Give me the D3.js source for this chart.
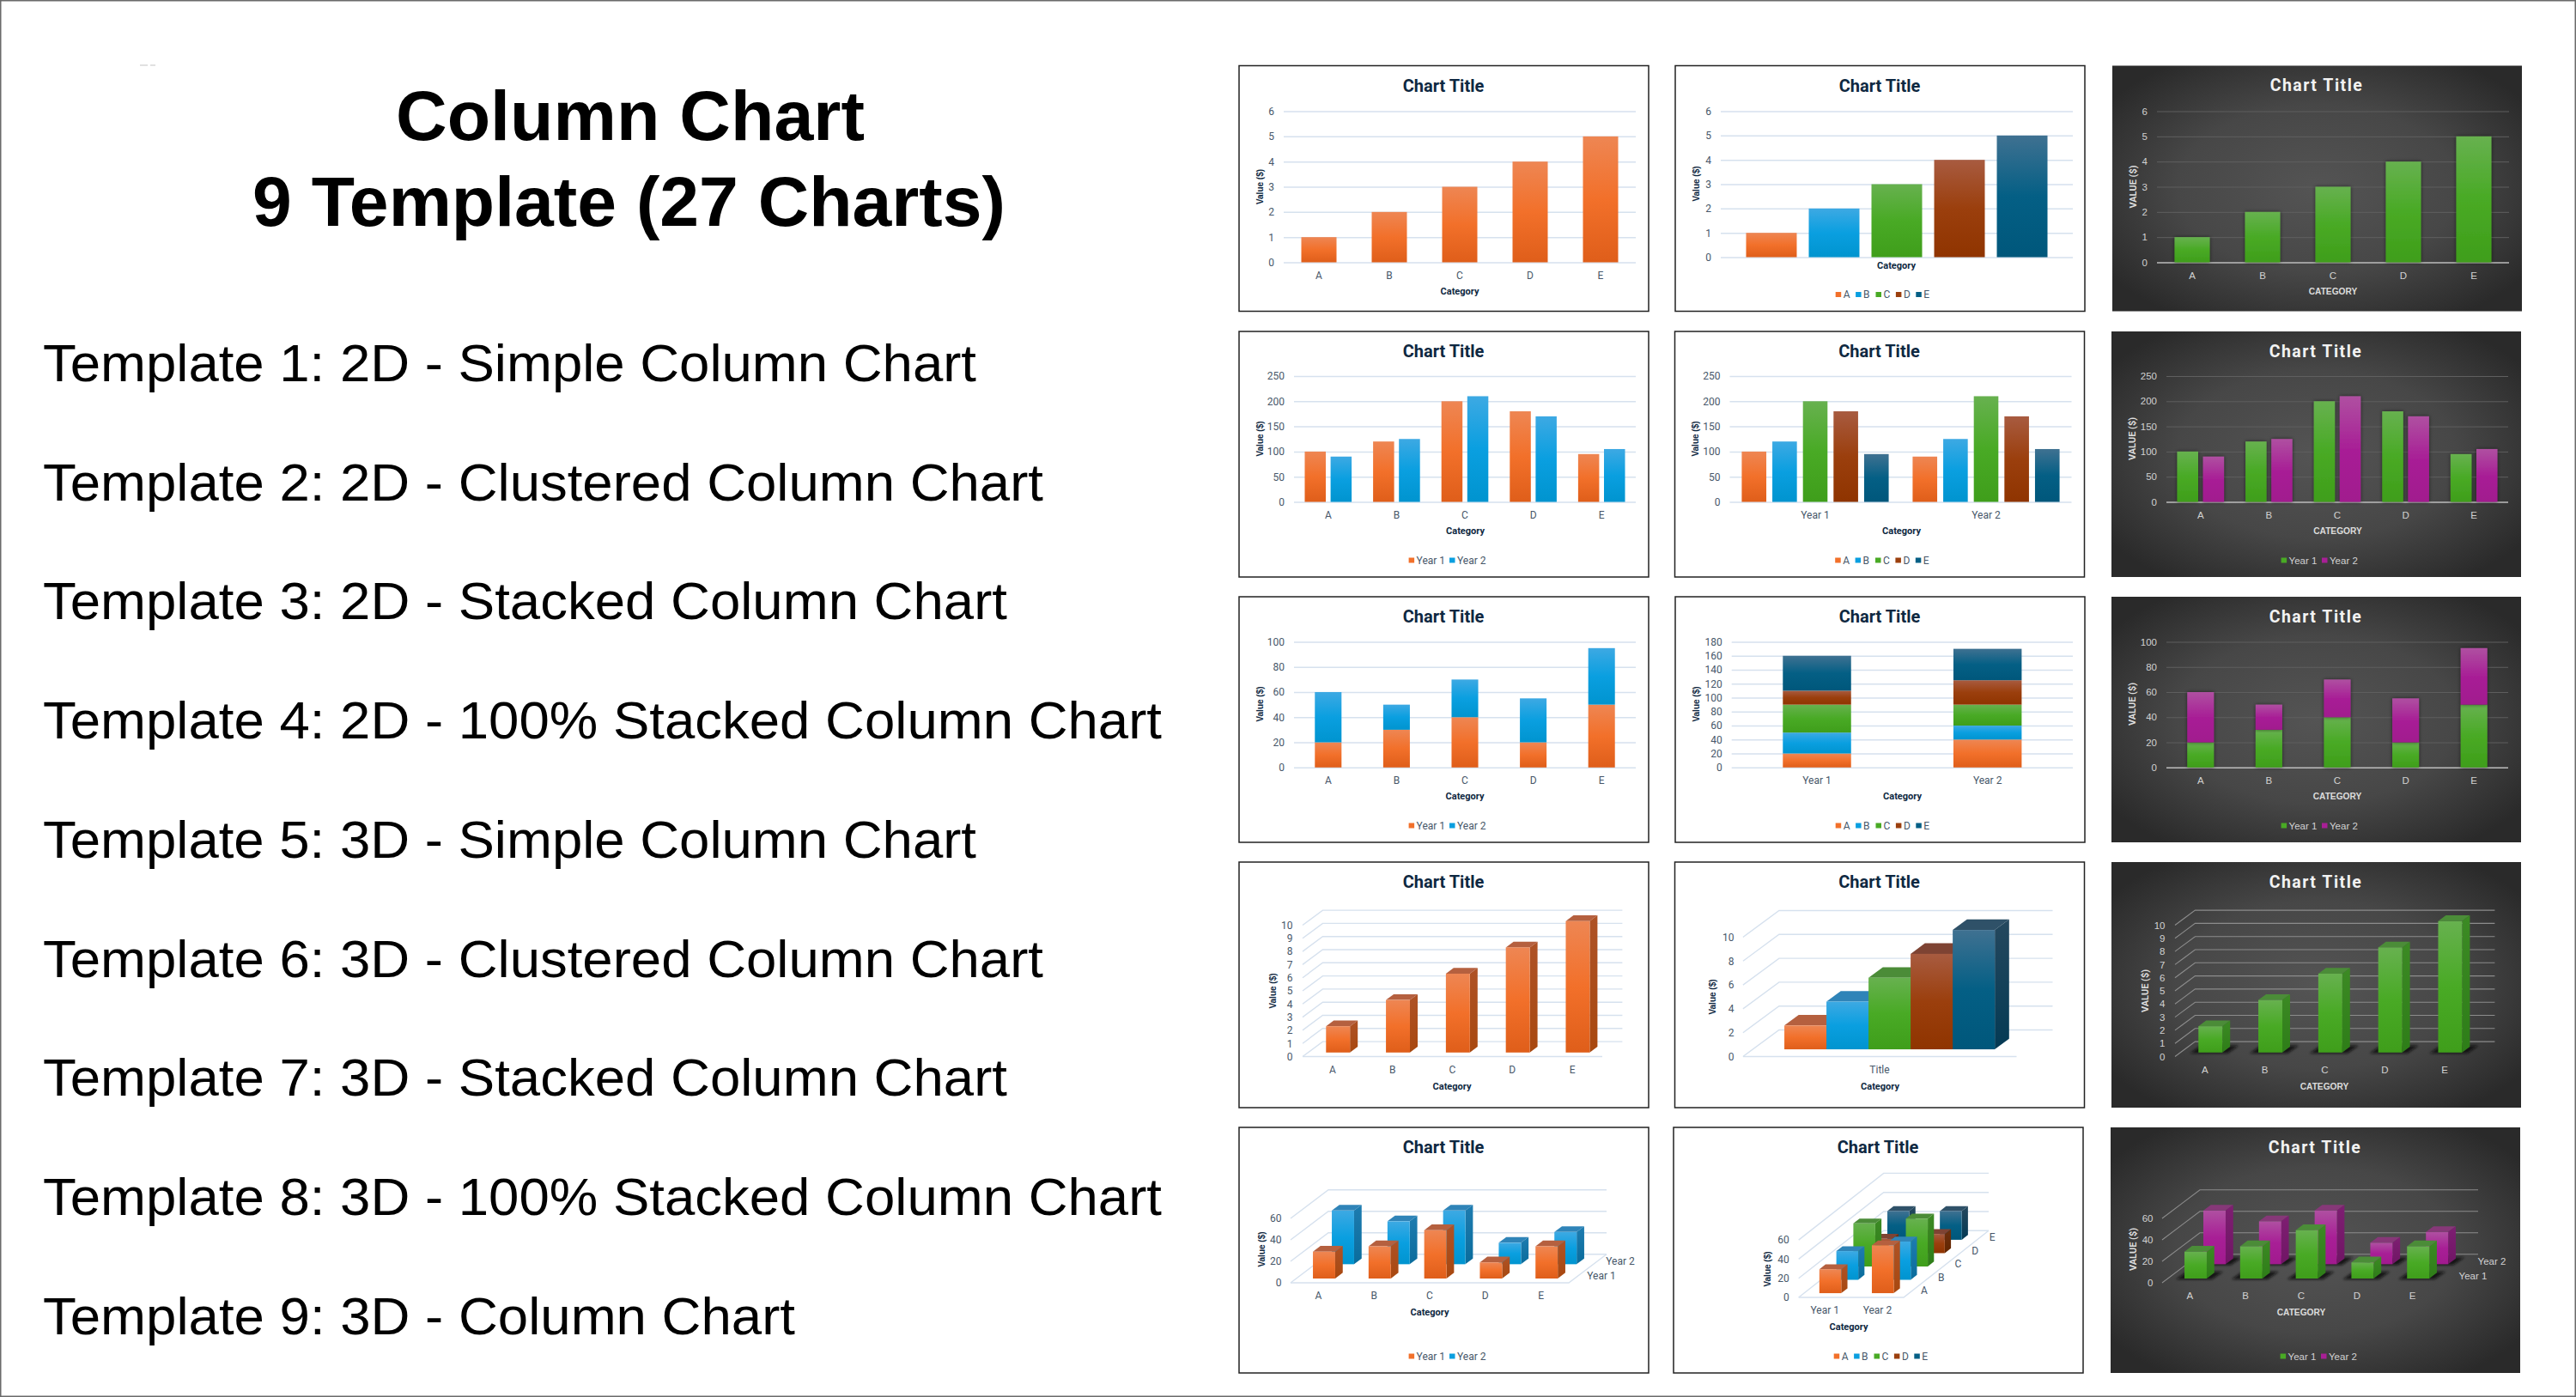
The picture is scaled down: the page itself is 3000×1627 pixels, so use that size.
<!DOCTYPE html>
<html><head><meta charset="utf-8">
<style>html,body{margin:0;padding:0;background:#fff}svg{display:block}text{white-space:pre}</style>
<script src="https://cdn.jsdelivr.net/npm/d3@7/dist/d3.min.js"></script></head>
<body><svg id="c" width="3000" height="1627"></svg>
<script>
// ---------- data ----------
const categories = ["A","B","C","D","E"];
const years = ["Year 1","Year 2"];
const simpleValues = [1,2,3,4,5];
const clusterYear1 = [100,120,200,180,95];
const clusterYear2 = [90,125,210,170,105];
const stackYear1 = [20,30,40,20,50];
const stackYear2 = [40,20,30,35,45];
const simple3d = [2,4,6,8,10];
const column3dYear1 = [25,30,45,15,30];
const column3dYear2 = [50,40,50,20,30];
const ticksSimple = [0,1,2,3,4,5,6];
const ticksCluster = [0,50,100,150,200,250];
const ticksStack = [0,20,40,60,80,100];
const ticksStackTall = [0,20,40,60,80,100,120,140,160,180];
const ticks3dTen = [0,1,2,3,4,5,6,7,8,9,10];
const ticks3dEven = [0,2,4,6,8,10];
const ticks3dCol = [0,20,40,60];
const headingLines = ["Column Chart","9 Template (27 Charts)"];
const templateLines = [
 "Template 1: 2D - Simple Column Chart",
 "Template 2: 2D - Clustered Column Chart",
 "Template 3: 2D - Stacked Column Chart",
 "Template 4: 2D - 100% Stacked Column Chart",
 "Template 5: 3D - Simple Column Chart",
 "Template 6: 3D - Clustered Column Chart",
 "Template 7: 3D - Stacked Column Chart",
 "Template 8: 3D - 100% Stacked Column Chart",
 "Template 9: 3D - Column Chart"];
const templateWidths = [1087,1165,1123,1303,1087,1165,1123,1303,876];

// ---------- palette ----------
const pal = {
 orange:{t:"#EE8653",m:"#F2702A",b:"#DF5E1A",roof:"#B5603F",side:"#AE5226",sideB:"#A8480F"},
 blue:{t:"#3DA9E3",m:"#0A9FE0",b:"#0094CF",roof:"#2F84B8",side:"#1E7CB0",sideB:"#0A6C9C"},
 green:{t:"#67B14F",m:"#49AA25",b:"#3F9E1B",roof:"#4B8C38",side:"#3C8A24",sideB:"#2E7D18"},
 brown:{t:"#A85B40",m:"#9B3F0D",b:"#8F3400",roof:"#7E4333",side:"#6E300F",sideB:"#632600"},
 navy:{t:"#3F7191",m:"#045F85",b:"#00577B",roof:"#2F5168",side:"#25485E",sideB:"#043A54"},
 purple:{t:"#AF50A1",m:"#A81F96",b:"#A11A8E",roof:"#863878",side:"#7E1F72",sideB:"#701565"}
};
const catColors = ["orange","blue","green","brown","navy"];

const svg = d3.select("#c");
const defs = svg.append("defs");
Object.entries(pal).forEach(([k,p])=>{
  const g = defs.append("linearGradient").attr("id","f-"+k).attr("x1",0).attr("y1",0).attr("x2",0).attr("y2",1);
  g.append("stop").attr("offset","0").attr("stop-color",p.t);
  g.append("stop").attr("offset","0.5").attr("stop-color",p.m);
  g.append("stop").attr("offset","1").attr("stop-color",p.b);
  const s = defs.append("linearGradient").attr("id","s-"+k).attr("x1",0).attr("y1",0).attr("x2",0).attr("y2",1);
  s.append("stop").attr("offset","0").attr("stop-color",p.side);
  s.append("stop").attr("offset","1").attr("stop-color",p.sideB);
});
const rg = defs.append("radialGradient").attr("id","darkBg").attr("cx","50%").attr("cy","50%").attr("r","62%");
rg.append("stop").attr("offset","0").attr("stop-color","#545454");
rg.append("stop").attr("offset","0.55").attr("stop-color","#474747");
rg.append("stop").attr("offset","1").attr("stop-color","#2a2a2a");
const ds = defs.append("filter").attr("id","barShadow").attr("x","-30%").attr("y","-10%").attr("width","160%").attr("height","120%");
ds.append("feDropShadow").attr("dx",0).attr("dy",0).attr("stdDeviation",2).attr("flood-color","#000").attr("flood-opacity",.55);
const bl = defs.append("filter").attr("id","blur").attr("x","-30%").attr("y","-50%").attr("width","160%").attr("height","200%");
bl.append("feGaussianBlur").attr("stdDeviation",1.6);

// ---------- page ----------
const SANS = "'Liberation Sans',Arial,sans-serif", ROB = "Roboto,sans-serif";
svg.append("rect").attr("width",3000).attr("height",1627).attr("fill","#fff");
svg.append("rect").attr("x",.75).attr("y",.75).attr("width",2998.5).attr("height",1625.5).attr("fill","none").attr("stroke","#6a6a6a").attr("stroke-width",1.5);
svg.selectAll(".mk").data([163,175]).join("rect").attr("x",d=>d).attr("y",75.5).attr("width",d=>d==163?9:6).attr("height",1).attr("fill","#c4c4c4");

const headWidths=[546,877];
svg.selectAll(".head").data(headingLines).join("text").attr("class","head")
  .attr("x",(d,i)=>i?732.5:734).attr("y",(d,i)=>163+i*100).attr("text-anchor","middle")
  .attr("font-family",SANS).attr("font-weight",700).attr("font-size",82).attr("fill","#000")
  .attr("textLength",(d,i)=>headWidths[i]).attr("lengthAdjust","spacingAndGlyphs").text(d=>d);
svg.selectAll(".tpl").data(templateLines).join("text").attr("class","tpl")
  .attr("x",50).attr("y",(d,i)=>444+i*138.7)
  .attr("font-family",SANS).attr("font-size",62).attr("fill","#000")
  .attr("textLength",(d,i)=>templateWidths[i]).attr("lengthAdjust","spacingAndGlyphs").text(d=>d);

// ---------- panel helpers ----------
const rowTop=[76.5,386,695,1004,1313];
const colLeft=[[1443,1443,1443,1443,1443],[1951,1950.5,1951,1950.5,1949],[2460,2459,2459,2459,2458]];
const PW=477, PH=286;
// a band scale whose step is exactly range/n, with bars centred in each step
const band=(dom,r,p)=>d3.scaleBand().domain(dom).range(r).paddingInner(p).paddingOuter(p/2);

function theme(dark){
  return dark?{
    title:"#f2f2f2",tick:"#d2d2d2",axt:"#dcdcdc",legend:"#d2d2d2",grid:"#5f5f5f",base:"#bdbdbd",grid3:"#8c8c8c",
    a:"green",b:"purple",upper:true,
    tickFont:SANS,tickSize:11.5,yFont:ROB,ySize:11
  }:{
    title:"#0E2841",tick:"#475769",axt:"#0E2841",legend:"#475769",grid:"#D6E1EE",base:"#D6E1EE",grid3:"#D6E1EE",
    a:"orange",b:"blue",upper:false,
    tickFont:ROB,tickSize:12,yFont:SANS,ySize:10
  };
}
function panel(col,row,dark){
  const x=colLeft[col][row],y=rowTop[row];
  const g=svg.append("g").attr("transform",`translate(${x},${y})`);
  if(dark) g.append("rect").attr("width",PW).attr("height",PH).attr("fill","url(#darkBg)");
  else g.append("rect").attr("width",PW).attr("height",PH).attr("fill","#fff").attr("stroke","#222").attr("stroke-width",1.5);
  const th=theme(dark);
  g.append("text").attr("x",238).attr("y",23).attr("dy","0.35em").attr("text-anchor","middle")
   .attr("font-family",ROB).attr("font-weight",700).attr("font-size",dark?19.5:20)
   .attr("letter-spacing",dark?1.5:0).attr("fill",th.title).text("Chart Title");
  return {g,th,dark};
}
function axisTitles(p,o){
  const {g,th}=p;
  g.append("text").attr("transform",`translate(${o.yx},${o.yy}) rotate(-90)`).attr("dy","0.35em").attr("text-anchor","middle")
   .attr("font-family",th.yFont).attr("font-weight",700).attr("font-size",th.ySize).attr("fill",th.axt)
   .text(th.upper?"VALUE ($)":"Value ($)");
  g.append("text").attr("x",o.cx).attr("y",o.cy).attr("dy","0.35em").attr("text-anchor","middle")
   .attr("font-family",th.upper?SANS:ROB).attr("font-weight",700).attr("font-size",th.upper?10.2:11).attr("fill",th.axt)
   .text(th.upper?"CATEGORY":"Category");
}
function legend(p,labels,colors,start,step){
  if(!labels) return;
  const {g,th}=p, y=266.5;
  const it=g.selectAll(".lg").data(labels).join("g").attr("transform",(d,i)=>`translate(${start+i*step},${y})`);
  it.append("rect").attr("x",0).attr("y",-3).attr("width",6.5).attr("height",6).attr("fill",(d,i)=>pal[colors[i]].m);
  it.append("text").attr("x",9).attr("dy","0.35em").attr("font-family",th.tickFont).attr("font-size",th.tickSize).attr("fill",th.legend).text(d=>d);
}
function xLabels(p,labels,xFn,y){
  const {g,th}=p;
  g.selectAll(".xl").data(labels).join("text").attr("x",d=>xFn(d)).attr("y",y).attr("dy","0.35em").attr("text-anchor","middle")
   .attr("font-family",th.tickFont).attr("font-size",th.tickSize).attr("fill",th.tick).text(d=>d);
}
function valueAxis2d(p,y,ticks,x0,x1){
  const {g,th}=p;
  const ax=g.append("g").attr("transform",`translate(${x0},0)`)
    .call(d3.axisLeft(y).tickValues(ticks).tickFormat(d3.format("d")).tickSize(-(x1-x0)).tickPadding(11));
  ax.select(".domain").remove();
  ax.selectAll("line").attr("stroke",d=>d===0?th.base:th.grid).attr("stroke-width",d=>(d===0&&p.dark)?1.5:(p.dark?1:1.5));
  ax.selectAll("text").attr("font-family",th.tickFont).attr("font-size",th.tickSize).attr("fill",th.tick);
}
function bars2d(p,data,xF,wF,yTop,yBot,colorF){
  p.g.selectAll(".b"+data.tag).data(data.rows).join("rect")
   .attr("x",xF).attr("width",wF).attr("y",yTop).attr("height",d=>yBot(d)-yTop(d))
   .attr("fill",d=>`url(#f-${colorF(d)})`)
   .attr("filter",p.dark?"url(#barShadow)":null);
}

// ---------- 2D templates ----------
function t1(col,row,dark,multi){
  const p=panel(col,row,dark),yB=multi?223:229;
  const y=d3.scaleLinear().domain([0,6]).range([yB,53]);
  const x0=multi?53:52,x1=multi?463:462;
  valueAxis2d(p,y,ticksSimple,x0,x1);
  const rows=categories.map((c,i)=>({c,v:simpleValues[i],i}));
  if(multi){
    const x=d3.scaleBand().domain(categories).range([x0,x1]).paddingInner(.192).paddingOuter(.404);
    bars2d(p,{rows,tag:"s"},d=>x(d.c),x.bandwidth(),d=>y(d.v),d=>y(0),d=>catColors[d.i]);
    axisTitles(p,{yx:24,yy:137.5,cx:257.5,cy:233});
    legend(p,categories,catColors,186.7,23.4);
  }else{
    const x=band(categories,[x0,x1],.5);
    bars2d(p,{rows,tag:"s"},d=>x(d.c),x.bandwidth(),d=>y(d.v),d=>y(0),d=>p.th.a);
    xLabels(p,categories,d=>x(d)+x.bandwidth()/2,244);
    axisTitles(p,{yx:24,yy:141,cx:257,cy:263});
  }
}
function t2(col,row,dark,byYear){
  const p=panel(col,row,dark);
  const y=d3.scaleLinear().domain([0,250]).range([198.5,52]);
  const x0=64,x1=462;
  valueAxis2d(p,y,ticksCluster,x0,x1);
  if(byYear){
    const x=band(years,[x0,x1],.14);
    const xi=d3.scaleBand().domain(categories).range([0,x.bandwidth()]).paddingInner(.197);
    const rows=[];
    years.forEach((yr,j)=>categories.forEach((c,i)=>rows.push({yr,c,i,v:(j?clusterYear2:clusterYear1)[i]})));
    bars2d(p,{rows,tag:"c"},d=>x(d.yr)+xi(d.c),xi.bandwidth(),d=>y(d.v),d=>y(0),d=>catColors[d.i]);
    xLabels(p,years,d=>x(d)+x.bandwidth()/2,213.5);
    axisTitles(p,{yx:24,yy:125,cx:264,cy:232});
    legend(p,categories,catColors,186.7,23.4);
  }else{
    const x=band(categories,[x0,x1],.314);
    const xi=d3.scaleBand().domain(years).range([0,x.bandwidth()]).paddingInner(.186);
    const rows=[];
    categories.forEach((c,i)=>years.forEach((yr,j)=>rows.push({yr,c,j,v:(j?clusterYear2:clusterYear1)[i]})));
    bars2d(p,{rows,tag:"c"},d=>x(d.c)+xi(d.yr),xi.bandwidth(),d=>y(d.v),d=>y(0),d=>d.j?p.th.b:p.th.a);
    xLabels(p,categories,d=>x(d)+x.bandwidth()/2,213.5);
    axisTitles(p,{yx:24,yy:125,cx:263.5,cy:232});
    legend(p,years,[p.th.a,p.th.b],197.6,47.4);
  }
}
function t3(col,row,dark,byYear){
  const p=panel(col,row,dark);
  if(byYear){
    const y=d3.scaleLinear().domain([0,180]).range([198.8,52.5]);
    const x0=65.7,x1=463;
    valueAxis2d(p,y,ticksStackTall,x0,x1);
    const x=band(years,[x0,x1],.6);
    const stack=d3.stack().keys(categories.map((c,i)=>i));
    const table=[stackYear1,stackYear2].map(a=>a.slice());
    const series=stack(table);
    const rows=[];
    series.forEach((s,i)=>s.forEach((pt,j)=>rows.push({yr:years[j],i,a:pt[0],b:pt[1]})));
    bars2d(p,{rows,tag:"k"},d=>x(d.yr),x.bandwidth(),d=>y(d.b),d=>y(d.a),d=>catColors[d.i]);
    xLabels(p,years,d=>x(d)+x.bandwidth()/2,213.5);
    axisTitles(p,{yx:24,yy:125,cx:264.5,cy:232});
    legend(p,categories,catColors,186.7,23.4);
  }else{
    const y=d3.scaleLinear().domain([0,100]).range([198.8,52.5]);
    const x0=64,x1=462;
    valueAxis2d(p,y,ticksStack,x0,x1);
    const x=band(categories,[x0,x1],.61);
    const table=categories.map((c,i)=>[stackYear1[i],stackYear2[i]]);
    const series=d3.stack().keys([0,1])(table);
    const rows=[];
    series.forEach((s,j)=>s.forEach((pt,i)=>rows.push({c:categories[i],j,a:pt[0],b:pt[1]})));
    bars2d(p,{rows,tag:"k"},d=>x(d.c),x.bandwidth(),d=>y(d.b),d=>y(d.a),d=>d.j?p.th.b:p.th.a);
    xLabels(p,categories,d=>x(d)+x.bandwidth()/2,213.5);
    axisTitles(p,{yx:24,yy:125,cx:263,cy:232});
    legend(p,years,[p.th.a,p.th.b],197.6,47.4);
  }
}

// ---------- oblique 3D ----------
function stage3d(p,o){
  const {g,th}=p;
  const y=d3.scaleLinear().domain([0,o.max]).range([o.floor,o.floor-o.unit*o.max]);
  const pr=(x,v,f)=>[x+o.dx*f,y(v)+o.dy*f];
  const line=d3.line();
  const grid=g.append("g").attr("fill","none").attr("stroke",th.grid3).attr("stroke-width",p.dark?1.1:1.4);
  grid.selectAll(".gl").data(o.gridTicks).join("path")
    .attr("d",t=>line([pr(o.x0,t,0),pr(o.x0,t,1),pr(o.x1,t,1)]));
  if(!p.dark){
    grid.append("path").attr("d",line(o.floorSide?[pr(o.x0,0,0),pr(o.x1,0,0),pr(o.x1,0,1)]:[pr(o.x0,0,0),pr(o.x1,0,0)]));
  }
  const ax=g.append("g").attr("transform",`translate(${o.x0},0)`).call(d3.axisLeft(y).tickValues(o.ticks).tickFormat(d3.format("d")).tickSize(0).tickPadding(o.pad||11));
  ax.select(".domain").remove();
  ax.selectAll("text").attr("font-family",th.tickFont).attr("font-size",th.tickSize).attr("fill",th.tick);
  return {y,pr};
}
function column3d(p,st,rows){
  const {g}=p,{pr}=st,line=d3.line();
  const poly=a=>line(a)+"Z";
  if(p.dark){
    g.selectAll(".shadow").data(rows).join("path").attr("fill","#0c0c0c").attr("opacity",.85).attr("filter","url(#blur)")
     .attr("d",d=>{const a=pr(d.x,0,d.f0),w=d.w;return poly([[a[0]-10,a[1]+1],[a[0]+w+6,a[1]+1],[a[0]+w+19,a[1]-8],[a[0]+3,a[1]-8]]);});
  }
  const b=g.selectAll(".col").data(rows).join("g");
  b.append("path").attr("fill",d=>pal[d.color].roof)
   .attr("d",d=>poly([pr(d.x,d.v,d.f0),pr(d.x+d.w,d.v,d.f0),pr(d.x+d.w,d.v,d.f1),pr(d.x,d.v,d.f1)]));
  b.append("path").attr("fill",d=>`url(#s-${d.color})`)
   .attr("d",d=>poly([pr(d.x+d.w,0,d.f0),pr(d.x+d.w,d.v,d.f0),pr(d.x+d.w,d.v,d.f1),pr(d.x+d.w,0,d.f1)]));
  b.append("rect").attr("fill",d=>`url(#f-${d.color})`)
   .attr("x",d=>pr(d.x,d.v,d.f0)[0]).attr("y",d=>pr(d.x,d.v,d.f0)[1])
   .attr("width",d=>d.w).attr("height",d=>pr(d.x,0,d.f0)[1]-pr(d.x,d.v,d.f0)[1]);
}
function depthLabels(p,labels,dep,o,off){
  const {g,th}=p;
  g.selectAll(".dl").data(labels).join("text")
   .attr("x",d=>o.x1+o.dx*(dep(d)+dep.bandwidth()/2)+off)
   .attr("y",d=>o.floor+o.dy*(dep(d)+dep.bandwidth()/2)).attr("dy","0.35em").attr("text-anchor","middle")
   .attr("font-family",th.tickFont).attr("font-size",th.tickSize).attr("fill",th.tick).text(d=>d);
}
function t4(col,row,dark){
  const p=panel(col,row,dark);
  const o={x0:74,x1:423,floor:226.5,dx:23.4,dy:-17.4,unit:15.3,max:10,ticks:ticks3dTen,gridTicks:ticks3dTen,pad:11.5};
  const st=stage3d(p,o);
  const x=band(categories,[o.x0,o.x1],.6);
  const dep=d3.scaleBand().domain(["s"]).range([0,1]).paddingOuter(.8).align(.44);
  const rows=categories.map((c,i)=>({x:x(c),w:x.bandwidth(),v:simple3d[i],f0:dep("s"),f1:dep("s")+dep.bandwidth(),color:p.th.a}));
  column3d(p,st,rows);
  xLabels(p,categories,d=>x(d)+x.bandwidth()/2,242);
  axisTitles(p,{yx:39,yy:150,cx:248,cy:261});
}
function t4b(col,row){
  const p=panel(col,row,false);
  const o={x0:79.4,x1:398,floor:226.5,dx:42,dy:-31,unit:13.9,max:10,ticks:ticks3dEven,gridTicks:ticks3dEven,pad:10.5};
  const st=stage3d(p,o);
  const x=d3.scaleBand().domain(categories).range([o.x0,o.x1]).paddingInner(0).paddingOuter(.75);
  const dep=d3.scaleBand().domain(["s"]).range([0,1]).paddingOuter(.76).align(.45);
  const rows=categories.map((c,i)=>({x:x(c),w:x.bandwidth(),v:simple3d[i],f0:dep("s"),f1:dep("s")+dep.bandwidth(),color:catColors[i]}));
  column3d(p,st,rows);
  xLabels(p,["Title"],()=>238.5,242);
  axisTitles(p,{yx:44,yy:157,cx:239,cy:261});
}
function t5(col,row,dark){
  const p=panel(col,row,dark);
  const o={x0:60,x1:384,floor:181,dx:44,dy:-33.3,unit:1.25,max:60,ticks:ticks3dCol,gridTicks:ticks3dCol,pad:10.5,floorSide:true};
  const st=stage3d(p,o);
  const x=band(categories,[o.x0,o.x1],.6);
  const dep=d3.scaleBand().domain(years).range([0,1]).paddingInner(.6).paddingOuter(.3);
  const mk=(yr,arr,color)=>categories.map((c,i)=>({x:x(c),w:x.bandwidth(),v:arr[i],f0:dep(yr),f1:dep(yr)+dep.bandwidth(),color}));
  const rows=[...mk("Year 2",column3dYear2,p.th.b),...mk("Year 1",column3dYear1,p.th.a)];
  column3d(p,st,rows);
  xLabels(p,categories,d=>x(d)+x.bandwidth()/2,196);
  depthLabels(p,years,dep,o,27);
  axisTitles(p,{yx:26,yy:142,cx:222,cy:215});
  legend(p,years,[p.th.a,p.th.b],197.6,47.4);
}
function t5b(col,row){
  const p=panel(col,row,false);
  const o={x0:145.7,x1:268,floor:198,dx:99,dy:-77.7,unit:1.115,max:60,ticks:ticks3dCol,gridTicks:ticks3dCol,pad:11,floorSide:true};
  const st=stage3d(p,o);
  const x=band(years,[o.x0,o.x1],.583);
  const dep=d3.scaleBand().domain(categories).range([0,1]).paddingInner(.635).paddingOuter(.3175);
  const rows=[];
  categories.slice().reverse().forEach(c=>{
    const i=categories.indexOf(c);
    years.forEach((yr,j)=>rows.push({x:x(yr),w:x.bandwidth(),v:(j?column3dYear2:column3dYear1)[i],f0:dep(c),f1:dep(c)+dep.bandwidth(),color:catColors[i]}));
  });
  column3d(p,st,rows);
  xLabels(p,years,d=>x(d)+x.bandwidth()/2,213);
  depthLabels(p,categories,dep,o,14);
  axisTitles(p,{yx:109,yy:165,cx:204,cy:232});
  legend(p,categories,catColors,186.7,23.4);
}

// ---------- grid of charts ----------
t1(0,0,false,false); t1(1,0,false,true); t1(2,0,true,false);
t2(0,1,false,false); t2(1,1,false,true); t2(2,1,true,false);
t3(0,2,false,false); t3(1,2,false,true); t3(2,2,true,false);
t4(0,3,false);       t4b(1,3);           t4(2,3,true);
t5(0,4,false);       t5b(1,4);           t5(2,4,true);
</script></body></html>
